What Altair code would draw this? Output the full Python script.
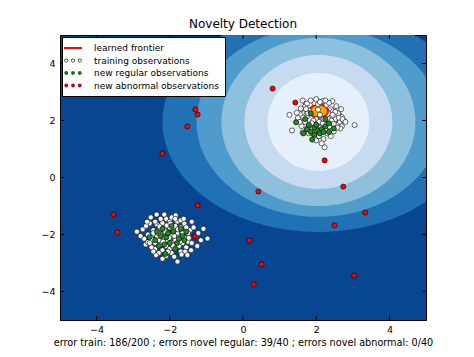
import altair as alt
import pandas as pd
import numpy as np

# ---------------- data ----------------
# decision-function bands (ellipses around the upper cluster), outermost first
band_cx = [2.06, 2.06, 2.06, 2.06, 2.06]
band_cy = [1.95, 1.95, 1.95, 1.95, 1.95]
band_a = [4.26, 3.33, 2.65, 2.02, 1.39]
band_b = [3.86, 3.33, 2.95, 2.35, 1.72]
band_colors = ["#2171b5", "#4f9bcc", "#8dc0dd", "#c6dbef", "#e6f0fa"]
background_color = "#084691"

# learned frontier (level 0)
frontier_cx = 2.07
frontier_cy = 2.33
frontier_a = 0.25
frontier_b = 0.23

train_x = [
    1.27, 1.34, 1.63, 2.18, 3.05, 2.23, 1.63, 1.47, 1.50, 2.44, 2.41, 2.59, 2.54, 1.63, 2.30, 2.07,
    1.72, 1.95, 2.05, 2.48, 2.62, 2.55, 2.70, 2.10, 2.42, 2.40, 2.50, 2.45, 2.35, 2.20, 2.05, 1.95,
    2.62, 1.75, 1.70, 1.80, 1.90, 2.00, 2.12, 2.25, 2.35, 2.58, 2.00, 1.80, 1.70, 1.75, 1.92, 2.05,
    2.28, 2.35, 2.60, 2.65, 2.70, 2.48, 2.40, 2.20, 1.95, 1.80, 1.60, 1.55, 1.68, 1.58, 2.52, 2.75,
    2.46, 2.08, 1.98, 2.28, 2.18, 1.74, 1.78, 2.52, 2.62, 2.72, 2.80, 2.68, 2.55, 2.33, 2.38, 1.90,
    2.00, 2.15, 1.75, 1.65, 2.42, 2.38, 2.25, 2.12, 1.88, 2.36, 2.66, 2.20, 2.48, 2.45, 1.72, 2.58,
    2.10, 2.25, 1.85, 2.00,
    -0.97, -1.79, -2.74, -2.66, -2.36, -1.84, -2.10, -1.60, -2.55, -2.60, -1.30, -1.45, -1.50, -1.55,
    -1.70, -1.95, -2.20, -2.40, -2.50, -2.45, -2.35, -2.20, -2.00, -1.80, -1.70, -1.65, -1.75, -1.85,
    -1.95, -2.05, -2.15, -2.25, -2.30, -2.15, -2.00, -1.90, -1.85, -1.95, -2.05, -2.10, -2.30, -2.40,
    -1.60, -1.50, -1.40, -1.75, -2.00, -2.25, -2.35, -2.45, -2.60, -2.70, -2.50, -2.30, -2.10, -1.90,
    -1.65, -1.55, -1.70, -1.95, -2.25, -2.40, -2.65, -1.35, -1.25, -1.42, -1.80, -2.12, -1.88, -2.02,
    -2.18, -1.72, -2.28, -1.62, -2.48, -2.08, -1.92, -1.58, -2.20, -2.38, -1.98, -1.78, -2.32, -1.48,
    -2.55, -2.05, -1.68, -1.88, -2.15, -2.52, -1.40, -1.22, -1.15, -2.80, -2.45, -1.85, -2.62, -1.52,
    -1.08, -2.90,
]
train_y = [
    2.20, 1.65, 2.70, 2.68, 1.84, 1.06, 2.37, 2.27, 2.09, 2.68, 2.39, 2.02, 1.88, 1.58, 1.55, 1.45,
    2.58, 2.62, 2.38, 2.25, 2.22, 2.15, 2.12, 2.20, 1.75, 2.10, 1.95, 1.80, 1.70, 1.75, 1.85, 1.95,
    1.92, 2.15, 1.95, 1.80, 1.70, 1.60, 1.62, 1.95, 1.95, 1.85, 2.05, 2.35, 2.50, 2.60, 2.00, 2.58,
    2.55, 2.62, 2.25, 1.95, 1.80, 1.62, 1.45, 1.35, 1.40, 1.55, 1.80, 1.95, 2.28, 2.42, 2.05, 2.00,
    2.32, 1.95, 1.82, 1.85, 1.90, 2.30, 2.25, 2.30, 2.10, 2.05, 1.95, 2.40, 2.50, 2.05, 1.68, 1.55,
    1.30, 1.20, 1.70, 2.10, 2.00, 1.85, 1.65, 1.75, 1.90, 1.80, 1.72, 2.05, 1.88, 2.20, 2.40, 1.75,
    2.65, 2.70, 2.70, 2.75,
    -2.14, -2.95, -1.82, -2.35, -1.30, -1.33, -1.45, -1.62, -1.61, -2.27, -2.05, -1.85, -2.25, -2.45,
    -2.60, -2.65, -2.55, -2.50, -2.05, -1.85, -1.65, -1.60, -1.55, -1.55, -1.75, -1.95, -2.10, -2.20,
    -2.30, -2.20, -2.10, -2.00, -1.85, -1.80, -1.75, -1.85, -1.70, -2.00, -1.95, -2.40, -2.20, -2.30,
    -2.10, -1.95, -2.30, -2.40, -2.50, -2.35, -2.05, -1.95, -2.00, -2.15, -2.45, -2.65, -2.75, -2.45,
    -2.30, -1.75, -1.50, -1.40, -1.45, -1.55, -1.70, -1.75, -2.40, -2.55, -1.95, -1.90, -2.05, -2.12,
    -2.25, -2.25, -1.72, -1.45, -2.18, -1.68, -2.38, -2.60, -2.85, -2.72, -1.62, -1.82, -1.95, -2.12,
    -2.30, -2.60, -2.70, -2.78, -1.30, -1.40, -1.55, -1.95, -2.20, -2.05, -2.60, -1.45, -1.55, -2.72,
    -1.80, -1.90,
]

regular_x = [1.89, 1.45, 1.75, 1.85, 1.95, 2.05, 2.15, 2.25, 2.35, 1.80, 1.95, 2.10, 2.20, 2.00,
             1.70, 1.85, 2.35, 1.65, 2.25, 2.48,
             -2.12, -2.55, -1.60, -1.90, -2.10, -2.20, -1.80, -2.30, -1.70, -2.00, -1.95, -2.25,
             -1.65, -2.40, -1.85, -2.05, -2.35, -1.55, -2.15, -1.75]
regular_y = [1.33, 1.94, 1.70, 1.60, 1.75, 1.65, 1.70, 1.80, 1.90, 1.85, 1.50, 1.55, 1.60, 1.85,
             2.05, 2.25, 1.60, 1.55, 2.05, 1.72,
             -2.68, -2.09, -2.20, -1.90, -2.10, -1.80, -2.30, -2.40, -1.80, -2.30, -1.70, -2.05,
             -2.05, -2.20, -2.50, -1.95, -1.90, -1.90, -2.35, -2.15]

abnormal_x = [0.81, 1.43, -1.30, -1.24, -1.52, 2.23, 2.74, 0.42, -1.24, 3.34, 2.50, -1.32, 0.18,
              0.51, 0.29, 3.04, -3.54, -3.43, -2.20]
abnormal_y = [3.12, 2.63, 2.39, 2.21, 1.79, 0.60, -0.32, -0.49, -0.98, -1.23, -1.68, -2.07, -2.21,
              -3.05, -3.75, -3.44, -1.30, -1.93, 0.84]

x_ticks = [-4, -2, 0, 2, 4]
y_ticks = [-4, -2, 0, 2, 4]
title_text = "Novelty Detection"
xlabel_text = "error train: 186/200 ; errors novel regular: 39/40 ; errors novel abnormal: 0/40"
legend_labels = ["learned frontier", "training observations",
                 "new regular observations", "new abnormal observations"]
legend_colors = ["red", "black", "#1a6b1a", "#c0001a"]

# ---------------- chart ----------------
FONT = "DejaVu Sans"
LO, HI = -5, 5
xs = alt.Scale(domain=[LO, HI], nice=False, zero=False)
ys = alt.Scale(domain=[LO, HI], nice=False, zero=False)
x_axis = alt.Axis(values=x_ticks, format="d", ticks=False, grid=False, labelPadding=4,
                  title=xlabel_text, titlePadding=4, titleFontWeight="normal",
                  titleFontSize=9.7, titleFont=FONT, titleColor="black",
                  labelFont=FONT, labelFontSize=9.5, labelColor="black", domainColor="black")
y_axis = alt.Axis(values=y_ticks, format="d", ticks=False, grid=False, labelPadding=5,
                  title=None, labelFont=FONT, labelFontSize=9.5, labelColor="black",
                  domainColor="black")

layers = []


def ellipse_df(cx, cy, a, b, n=241):
    t = np.linspace(np.pi, 0, n)
    return pd.DataFrame({
        "x": cx + a * np.cos(t),
        "y": cy + b * np.sin(t),
        "y2": cy - b * np.sin(t),
    })


for k in range(len(band_a)):
    df = ellipse_df(band_cx[k], band_cy[k], band_a[k], band_b[k])
    layers.append(
        alt.Chart(df).mark_area(clip=True, color=band_colors[k], opacity=1).encode(
            x=alt.X("x:Q", scale=xs, axis=x_axis),
            y=alt.Y("y:Q", scale=ys, axis=y_axis, stack=None),
            y2="y2:Q",
        )
    )

fr = ellipse_df(frontier_cx, frontier_cy, frontier_a, frontier_b)
layers.append(
    alt.Chart(fr).mark_area(clip=True, color="orange", opacity=1).encode(
        x=alt.X("x:Q", scale=xs), y=alt.Y("y:Q", scale=ys, stack=None), y2="y2:Q"
    )
)
t = np.linspace(0, 2 * np.pi, 181)
fr_line = pd.DataFrame({
    "i": np.arange(len(t)),
    "x": frontier_cx + frontier_a * np.cos(t),
    "y": frontier_cy + frontier_b * np.sin(t),
})
layers.append(
    alt.Chart(fr_line).mark_line(clip=True, color="red", strokeWidth=2).encode(
        x=alt.X("x:Q", scale=xs), y=alt.Y("y:Q", scale=ys), order="i:Q"
    )
)

# inward tick marks on all four sides (matplotlib style)
TX = 0.11   # tick length in x units (~4 px)
TY = 0.14   # tick length in y units (~4 px)
xt = pd.DataFrame({"v": x_ticks})
yt = pd.DataFrame({"v": y_ticks})
for y0, y1 in [(LO, LO + TY), (HI, HI - TY)]:
    layers.append(
        alt.Chart(xt).mark_rule(color="black", strokeWidth=1).encode(
            x=alt.X("v:Q", scale=xs), y=alt.Y(datum=y0, scale=ys), y2=alt.Y2(datum=y1)
        )
    )
for x0, x1 in [(LO, LO + TX), (HI, HI - TX)]:
    layers.append(
        alt.Chart(yt).mark_rule(color="black", strokeWidth=1).encode(
            y=alt.Y("v:Q", scale=ys), x=alt.X(datum=x0, scale=xs), x2=alt.X2(datum=x1)
        )
    )


def pts(xv, yv, fill):
    df = pd.DataFrame({"x": xv, "y": yv})
    return alt.Chart(df).mark_point(filled=True, shape="circle", size=26, fill=fill,
                                    stroke="black", strokeWidth=0.6, opacity=1, clip=True).encode(
        x=alt.X("x:Q", scale=xs), y=alt.Y("y:Q", scale=ys)
    )


layers.append(pts(train_x, train_y, "white"))
layers.append(pts(regular_x, regular_y, "forestgreen"))
layers.append(pts(abnormal_x, abnormal_y, "red"))

# legend-only layer (its rows are filtered out; entries come from the explicit scale domain)
bar = "M -1.8 -0.2 L 1.8 -0.2 L 1.8 0.2 L -1.8 0.2 Z"


def circ(cx, r, sweep):
    return (f"M {cx - r} 0 A {r} {r} 0 1 {sweep} {cx + r} 0 "
            f"A {r} {r} 0 1 {sweep} {cx - r} 0 Z ")


dots = "".join(circ(c, 0.38, 0) for c in (-1.35, 0, 1.35))
rings = "".join(circ(c, 0.38, 0) + circ(c, 0.26, 1) for c in (-1.35, 0, 1.35))
leg_df = pd.DataFrame({"entry": legend_labels, "x": [0, 0, 0, 0], "y": [0, 0, 0, 0]})
leg = alt.Legend(title=None, orient="top-left", offset=2, padding=5, fillColor="white",
                 strokeColor="black", labelFont=FONT, labelFontSize=9, labelColor="black",
                 symbolSize=100, labelOffset=15, rowPadding=1.5, symbolOpacity=1,
                 cornerRadius=0)
layers.append(
    alt.Chart(leg_df).mark_point(filled=True).encode(
        x=alt.X("x:Q", scale=xs), y=alt.Y("y:Q", scale=ys),
        color=alt.Color("entry:N", scale=alt.Scale(domain=legend_labels, range=legend_colors),
                        legend=leg),
        shape=alt.Shape("entry:N", scale=alt.Scale(domain=legend_labels,
                                                  range=[bar, rings, dots, dots]), legend=leg),
    ).transform_filter("false")
)

chart = alt.layer(*layers).properties(
    width=366, height=285,
    title=alt.TitleParams(title_text, font=FONT, fontSize=12, fontWeight="normal",
                          color="black", offset=4, anchor="middle"),
    autosize=alt.AutoSizeParams(type="none"),
    padding={"left": 52, "top": 27, "right": 40, "bottom": 29},
).configure_view(fill=background_color, stroke="black", strokeWidth=1)

chart.save("out.html", embed_options={"renderer": "svg", "actions": False})
